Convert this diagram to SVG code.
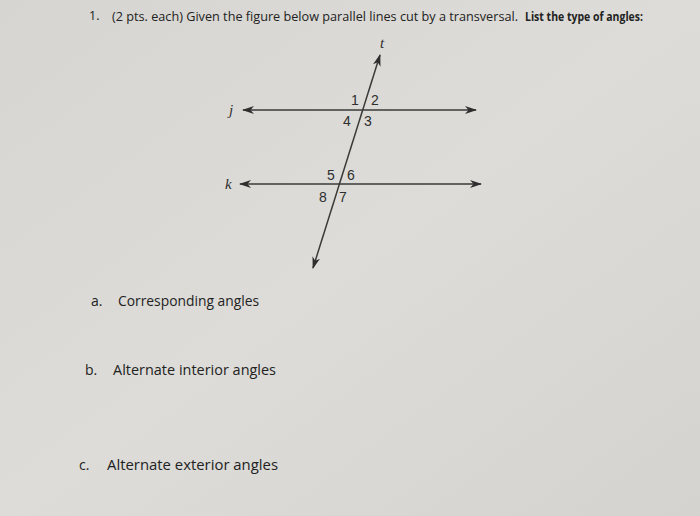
<svg xmlns="http://www.w3.org/2000/svg" width="700" height="516" viewBox="0 0 700 516">
<defs>
<linearGradient id="bg" x1="0" y1="0" x2="1" y2="1">
<stop offset="0" stop-color="#d6d5d1"/>
<stop offset="0.5" stop-color="#dddcd8"/>
<stop offset="1" stop-color="#d4d3cf"/>
</linearGradient>
<marker id="ah" viewBox="0 0 12 8" refX="11" refY="4" markerWidth="12" markerHeight="8" markerUnits="userSpaceOnUse" orient="auto-start-reverse">
<path d="M0,0 L12,4 L0,8 L3.5,4 Z" fill="#2e2e2e"/>
</marker>
<style>
.ln{stroke:#3a3a3a;stroke-width:1.5;fill:none}
.num{font-family:"Liberation Sans",Arial,sans-serif;font-size:14px;fill:#2e2e2e}
.var{font-family:"Liberation Serif",serif;font-style:italic;font-size:15px;fill:#2e2e2e}
.txt{font-family:"Open Sans","Noto Sans",sans-serif;font-size:14px;fill:#222}
.ttl{font-family:"Open Sans","Noto Sans",sans-serif;font-size:12.5px;fill:#222}
.ttlb{font-family:"Open Sans","Noto Sans",sans-serif;font-size:12px;font-weight:bold;fill:#222}
</style>
</defs>
<rect width="700" height="516" fill="url(#bg)"/>
<g id="title">
<text class="ttl" x="89" y="20">1.</text>
<text class="ttl" x="112" y="21" textLength="406" lengthAdjust="spacingAndGlyphs">(2 pts. each) Given the figure below parallel lines cut by a transversal.</text>
<text class="ttlb" x="525" y="21" textLength="118" lengthAdjust="spacingAndGlyphs">List the type of angles:</text>
</g>
<g id="connectors">
<line id="line-j" class="ln" x1="243" y1="110" x2="476" y2="110" marker-start="url(#ah)" marker-end="url(#ah)"/>
<line id="line-k" class="ln" x1="240" y1="184" x2="481" y2="184" marker-start="url(#ah)" marker-end="url(#ah)"/>
<line id="line-t" class="ln" x1="380" y1="55" x2="313" y2="268" marker-start="url(#ah)" marker-end="url(#ah)"/>
</g>
<g id="labels">
<text class="var" x="229" y="115">j</text>
<text class="var" x="225" y="189">k</text>
<text class="var" x="380" y="48">t</text>
</g>
<g id="angles-j">
<text class="num" x="351" y="105">1</text>
<text class="num" x="371" y="105">2</text>
<text class="num" x="343" y="126">4</text>
<text class="num" x="364" y="126">3</text>
</g>
<g id="angles-k">
<text class="num" x="327" y="180">5</text>
<text class="num" x="347" y="180">6</text>
<text class="num" x="319" y="202">8</text>
<text class="num" x="339" y="202">7</text>
</g>
<g id="questions">
<text class="txt" x="91" y="306">a.</text>
<text class="txt" x="118" y="306" textLength="141" lengthAdjust="spacingAndGlyphs">Corresponding angles</text>
<text class="txt" x="85" y="375">b.</text>
<text class="txt" x="113" y="375" textLength="163" lengthAdjust="spacingAndGlyphs">Alternate interior angles</text>
<text class="txt" x="79" y="470">c.</text>
<text class="txt" x="107" y="470" textLength="171" lengthAdjust="spacingAndGlyphs">Alternate exterior angles</text>
</g>
</svg>
